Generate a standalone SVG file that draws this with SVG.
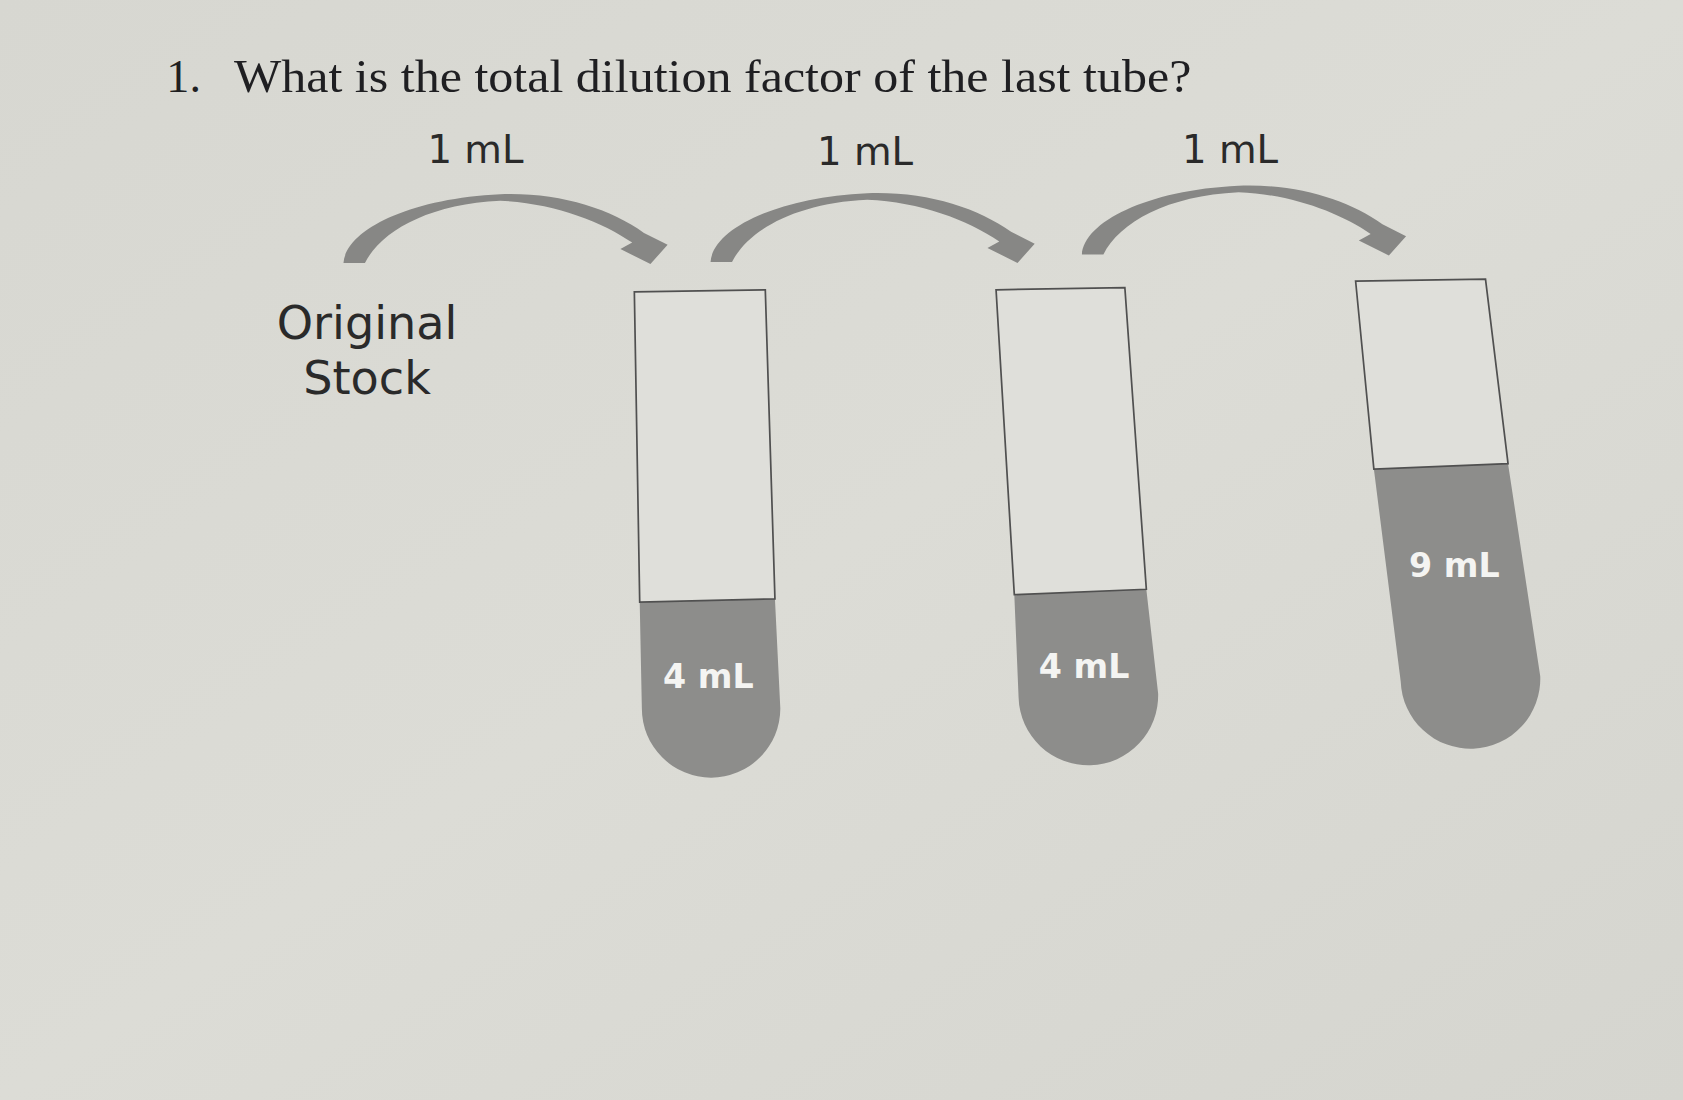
<svg xmlns="http://www.w3.org/2000/svg" width="1683" height="1100" viewBox="0 0 1683 1100">
<defs>
<style>
.title{font-family:"Liberation Serif","Times New Roman",serif;font-size:43px;fill:#1f1f22}
.lbl{font-family:"DejaVu Sans","Liberation Sans",sans-serif;font-size:36px;fill:#2a2a2a}
.stock{font-family:"DejaVu Sans","Liberation Sans",sans-serif;font-size:43px;fill:#2a2a2a}
.vol{font-family:"DejaVu Sans","Liberation Sans",sans-serif;font-size:31px;font-weight:bold;fill:#f4f4f2}
.glass{fill:#dfdfda;stroke:#505050;stroke-width:1.6}
.liquid{fill:#8d8d8b}
.arc{fill:#878785}
</style>
<linearGradient id="bg" x1="0" y1="0" x2="1" y2="1">
<stop offset="0" stop-color="#d7d7d1"/>
<stop offset="0.5" stop-color="#dcdcd6"/>
<stop offset="1" stop-color="#d5d5cf"/>
</linearGradient>
<path id="arrow" d="M320,245 C322,215 380,185 466,181 C520,179 568,194 600,217 L622,228 L606,246 L578,232 L589,226 C560,206 515,189 466,187 C400,190 355,215 340,245 Z"/>
</defs>
<rect width="1683" height="1100" fill="url(#bg)"/>
<g transform="scale(1.07334)">
<g id="title">
<text class="title" x="155" y="86">1.</text>
<text class="title" x="218" y="86" textLength="892" lengthAdjust="spacingAndGlyphs">What is the total dilution factor of the last tube?</text>
</g>
<g id="connectors">
<use href="#arrow" class="arc"/>
<use href="#arrow" class="arc" transform="translate(342,-1)"/>
<use href="#arrow" class="arc" transform="translate(688,-8)"/>
</g>
<g id="labels">
<text class="lbl" x="443" y="152" text-anchor="middle">1 mL</text>
<text class="lbl" x="806" y="154" text-anchor="middle">1 mL</text>
<text class="lbl" x="1146" y="152" text-anchor="middle">1 mL</text>
</g>
<g id="stock">
<text class="stock" x="342" y="316" text-anchor="middle">Original</text>
<text class="stock" x="342" y="367" text-anchor="middle">Stock</text>
</g>
<g id="tube1">
<path class="liquid" d="M596,561 L722,558 L727,660 A64.5,64.5 0 0 1 598,660 Z"/>
<path class="glass" d="M591,272 L713,270 L722,558 L596,561 Z"/>
<text class="vol" x="660" y="641" text-anchor="middle">4 mL</text>
</g>
<g id="tube2">
<path class="liquid" d="M945,554 L1068,549 L1079,646 A65,65 0 0 1 949,650 Z"/>
<path class="glass" d="M928,270 L1048,268 L1068,549 L945,554 Z"/>
<text class="vol" x="1010" y="632" text-anchor="middle">4 mL</text>
</g>
<g id="tube3">
<path class="liquid" d="M1280,437 L1405,432 L1435,630 A65,65 0 0 1 1305,635 Z"/>
<path class="glass" d="M1263,262 L1384,260 L1405,432 L1280,437 Z"/>
<text class="vol" x="1355" y="538" text-anchor="middle">9 mL</text>
</g>
</g>
</svg>
